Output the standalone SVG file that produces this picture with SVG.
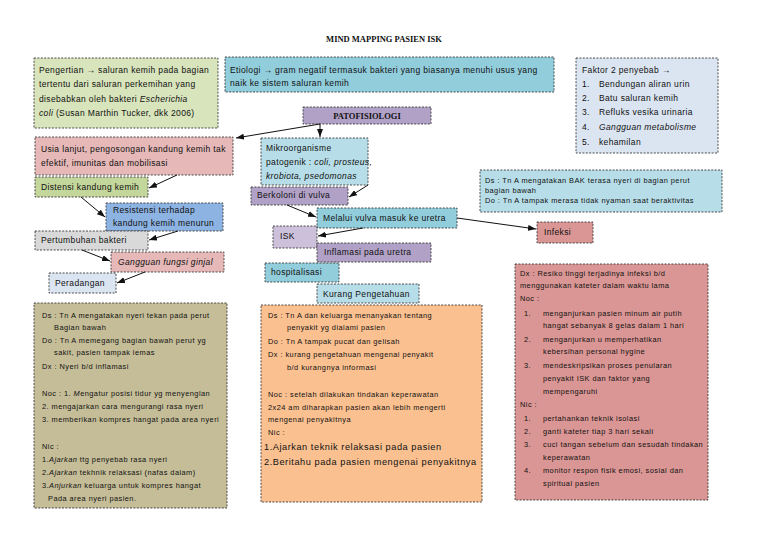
<svg xmlns="http://www.w3.org/2000/svg" width="768" height="543" viewBox="0 0 768 543">
<defs>
<style>
.b{stroke:#3a3a3a;stroke-width:0.9;stroke-dasharray:2 1.4}
text{font-family:"Liberation Sans",Arial,sans-serif;fill:#111}
.t{font-size:8.5px;letter-spacing:0.36px}
.s{font-size:7.4px;letter-spacing:0.45px}
.m{font-size:9.2px;letter-spacing:0.55px}
.i{font-style:italic}
.c{stroke:#111;stroke-width:1;fill:none;marker-end:url(#ah)}
</style>
<marker id="ah" markerUnits="userSpaceOnUse" markerWidth="8" markerHeight="6" refX="8" refY="3" orient="auto"><path d="M0,0 L8,3 L0,6 z" fill="#111"/></marker>
</defs>
<rect width="768" height="543" fill="#fff"/>
<text x="384" y="42" text-anchor="middle" style="font-family:'Liberation Serif',serif;font-weight:bold;font-size:8.5px">MIND MAPPING PASIEN ISK</text>

<g id="pengertian"><rect class="b" x="34" y="58" width="184" height="70" fill="#d8e4bc"/>
<text class="t" x="39" y="73">Pengertian → saluran kemih pada bagian</text>
<text class="t" x="39" y="87">tertentu dari saluran perkemihan yang</text>
<text class="t" x="39" y="102">disebabkan oleh bakteri <tspan class="i">Escherichia</tspan></text>
<text class="t" x="39" y="116"><tspan class="i">coli</tspan> (Susan Marthin Tucker, dkk 2006)</text></g>

<g id="etiologi"><rect class="b" x="225" y="57" width="329" height="35" fill="#92cddc"/>
<text class="t" x="230" y="73">Etiologi → gram negatif termasuk bakteri yang biasanya menuhi usus yang</text>
<text class="t" x="230" y="86">naik ke sistem saluran kemih</text></g>

<g id="faktor"><rect class="b" x="576" y="58" width="142" height="95" fill="#dbe5f1"/>
<text class="t" x="582" y="73">Faktor 2 penyebab →</text>
<text class="t" x="582" y="87">1.</text><text class="t" x="599" y="87">Bendungan aliran urin</text>
<text class="t" x="582" y="101">2.</text><text class="t" x="599" y="101">Batu saluran kemih</text>
<text class="t" x="582" y="115">3.</text><text class="t" x="599" y="115">Refluks vesika urinaria</text>
<text class="t" x="582" y="130">4.</text><text class="t i" x="599" y="130">Gangguan metabolisme</text>
<text class="t" x="582" y="145">5.</text><text class="t" x="599" y="145">kehamilan</text></g>

<g id="patofisiologi"><rect class="b" x="303" y="107" width="128" height="17" fill="#b2a1c7"/>
<text x="367" y="119" text-anchor="middle" style="font-family:'Liberation Serif',serif;font-weight:bold;font-size:8.5px">PATOFISIOLOGI</text></g>

<g id="usia"><rect class="b" x="35" y="137" width="198" height="38" fill="#e6b9b8"/>
<text class="t" x="41" y="152">Usia lanjut, pengosongan kandung kemih tak</text>
<text class="t" x="41" y="166">efektif, imunitas dan mobilisasi</text></g>

<g id="distensi"><rect class="b" x="35" y="177" width="113" height="20" fill="#c3d69b"/>
<text class="t" x="41" y="190">Distensi kandung kemih</text></g>

<g id="resistensi"><rect class="b" x="106" y="203" width="117" height="28" fill="#8db3e2"/>
<text class="t" x="113" y="213">Resistensi terhadap</text>
<text class="t" x="113" y="226">kandung kemih menurun</text></g>

<g id="pertumbuhan"><rect class="b" x="35" y="231" width="113" height="19" fill="#d9d9d9"/>
<text class="t" x="41" y="243">Pertumbuhan bakteri</text></g>

<g id="gangguan"><rect class="b" x="111" y="252" width="113" height="20" fill="#e6b9b8"/>
<text class="t i" x="118" y="265">Gangguan fungsi ginjal</text></g>

<g id="peradangan"><rect class="b" x="49" y="273" width="67" height="20" fill="#dbe5f1"/>
<text class="t" x="55" y="286">Peradangan</text></g>

<g id="mikroorganisme"><rect class="b" x="261" y="138" width="107" height="47" fill="#b7dee8"/>
<text class="t" x="266" y="151">Mikroorganisme</text>
<text class="t" x="266" y="165">patogenik : <tspan class="i">coli, prosteus,</tspan></text>
<text class="t i" x="266" y="179">krobiota, psedomonas</text></g>

<g id="berkoloni"><rect class="b" x="251" y="187" width="97" height="18" fill="#b2a1c7"/>
<text class="t" x="257" y="198">Berkoloni di vulva</text></g>

<g id="melalui"><rect class="b" x="317" y="208" width="140" height="20" fill="#92cddc"/>
<text class="t" x="323" y="221">Melalui vulva masuk ke uretra</text></g>

<g id="isk"><rect class="b" x="273" y="226" width="44" height="22" fill="#ccc0da"/>
<text class="t" x="280" y="239">ISK</text></g>

<g id="inflamasi"><rect class="b" x="317" y="243" width="114" height="19" fill="#b2a1c7"/>
<text class="t" x="324" y="255">Inflamasi pada uretra</text></g>

<g id="hospitalisasi"><rect class="b" x="265" y="263" width="74" height="19" fill="#92cddc"/>
<text class="t" x="271" y="275">hospitalisasi</text></g>

<g id="kurang"><rect class="b" x="317" y="284" width="102" height="19" fill="#b7dee8"/>
<text class="t" x="323" y="297">Kurang Pengetahuan</text></g>

<g id="infeksi"><rect class="b" x="537" y="222" width="56" height="21" fill="#da9694"/>
<text class="t" x="544" y="235">Infeksi</text></g>

<g id="ds-kanan"><rect class="b" x="480" y="170" width="242" height="42" fill="#b7dee8"/>
<text class="s" x="485" y="183">Ds : Tn A mengatakan BAK terasa nyeri di bagian perut</text>
<text class="s" x="485" y="193">bagian bawah</text>
<text class="s" x="485" y="203">Do : Tn A tampak merasa tidak nyaman saat beraktivitas</text></g>

<g id="askep-nyeri"><rect class="b" x="34" y="303" width="193" height="205" fill="#c4bd97"/>
<text class="s" x="42" y="318">Ds : Tn A mengatakan nyeri tekan pada perut</text>
<text class="s" x="54" y="330">Bagian bawah</text>
<text class="s" x="42" y="343">Do : Tn A memegang bagian bawah perut yg</text>
<text class="s" x="54" y="355">sakit, pasien tampak lemas</text>
<text class="s" x="42" y="369">Dx : Nyeri b/d inflamasi</text>
<text class="s" x="42" y="396">Noc : 1. <tspan class="i">M</tspan>engatur posisi tidur yg menyenglan</text>
<text class="s" x="42" y="409">2. mengajarkan cara mengurangi rasa nyeri</text>
<text class="s" x="42" y="422">3. memberikan kompres hangat pada area nyeri</text>
<text class="s" x="42" y="449">Nic :</text>
<text class="s" x="42" y="462">1.<tspan class="i">Ajarkan</tspan> ttg penyebab rasa nyeri</text>
<text class="s" x="42" y="475">2.<tspan class="i">Ajarkan</tspan> tekhnik relaksasi (nafas dalam)</text>
<text class="s" x="42" y="488">3.<tspan class="i">Anjurkan</tspan> keluarga untuk kompres hangat</text>
<text class="s" x="48" y="501">Pada area nyeri pasien.</text></g>

<g id="askep-pengetahuan"><rect class="b" x="261" y="305" width="221" height="197" fill="#fac090"/>
<text class="s" x="268" y="318">Ds : Tn A dan keluarga menanyakan tentang</text>
<text class="s" x="287" y="330">penyakit yg dialami pasien</text>
<text class="s" x="268" y="344">Do : Tn A tampak pucat dan gelisah</text>
<text class="s" x="268" y="357">Dx : kurang pengetahuan mengenai penyakit</text>
<text class="s" x="287" y="370">b/d kurangnya informasi</text>
<text class="s" x="268" y="397">Noc : setelah dilakukan tindakan keperawatan</text>
<text class="s" x="268" y="410">2x24 am diharapkan pasien akan lebih mengerti</text>
<text class="s" x="268" y="422">mengenai penyakitnya</text>
<text class="s" x="268" y="435">Nic :</text>
<text class="m" x="264" y="450">1.Ajarkan teknik relaksasi pada pasien</text>
<text class="m" x="264" y="465">2.Beritahu pada pasien mengenai penyakitnya</text></g>

<g id="askep-infeksi"><rect class="b" x="515" y="264" width="193" height="236" fill="#da9694"/>
<text class="s" x="520" y="276">Dx : Resiko tinggi terjadinya infeksi b/d</text>
<text class="s" x="520" y="288">menggunakan kateter dalam waktu lama</text>
<text class="s" x="520" y="301">Noc :</text>
<text class="s" x="524" y="316">1.</text><text class="s" x="543" y="316">menganjurkan pasien minum air putih</text>
<text class="s" x="543" y="328">hangat sebanyak 8 gelas dalam 1 hari</text>
<text class="s" x="524" y="342">2.</text><text class="s" x="543" y="342">menganjurkan u memperhatikan</text>
<text class="s" x="543" y="354">kebersihan personal hygine</text>
<text class="s" x="524" y="368">3.</text><text class="s" x="543" y="368">mendeskripsikan proses penularan</text>
<text class="s" x="543" y="381">penyakit ISK dan faktor yang</text>
<text class="s" x="543" y="394">mempengaruhi</text>
<text class="s" x="520" y="407">Nic :</text>
<text class="s" x="524" y="421">1.</text><text class="s" x="543" y="421">pertahankan teknik isolasi</text>
<text class="s" x="524" y="434">2.</text><text class="s" x="543" y="434">ganti kateter tiap 3 hari sekali</text>
<text class="s" x="524" y="447">3.</text><text class="s" x="543" y="447">cuci tangan sebelum dan sesudah tindakan</text>
<text class="s" x="543" y="460">keperawatan</text>
<text class="s" x="524" y="473">4.</text><text class="s" x="543" y="473">monitor respon fisik emosi, sosial dan</text>
<text class="s" x="543" y="486">spiritual pasien</text></g>

<g id="connectors">
<path class="c" d="M320,124 L236,138"/>
<path class="c" d="M320,124 L320,137"/>
<path class="c" d="M177,175 L149,188"/>
<path class="c" d="M81,197 L105,217"/>
<path class="c" d="M178,231 L149,240"/>
<path class="c" d="M82,250 L110,261"/>
<path class="c" d="M145,272 L117,283"/>
<path class="c" d="M368,185 L349,197"/>
<path class="c" d="M287,205 L316,217"/>
<path class="c" d="M363,228 L318,236"/>
<path class="c" d="M457,218 L536,229"/>
</g>
</svg>
